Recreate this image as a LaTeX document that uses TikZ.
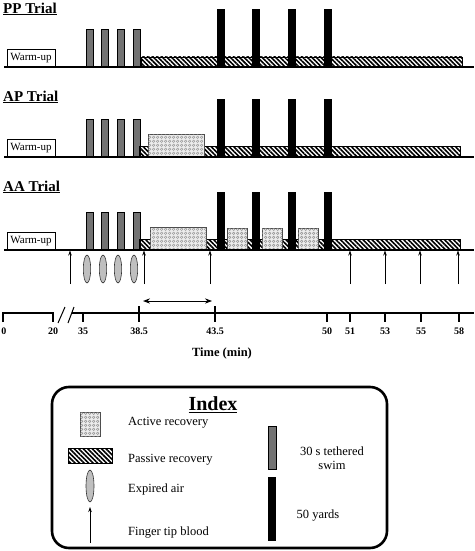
\documentclass[tikz,border=0pt]{standalone}
\usepackage{fontspec}
\setmainfont{Liberation Serif}
\usetikzlibrary{patterns.meta,arrows.meta}

\pgfdeclarepattern{
  name=bubbles, type=uncolored,
  bottom left={\pgfpoint{0pt}{0pt}}, top right={\pgfpoint{4pt}{4pt}},
  tile size={\pgfpoint{4pt}{4pt}},
  code={\pgfsetlinewidth{0.45pt}\pgfpathcircle{\pgfpoint{2pt}{2pt}}{1.5pt}\pgfusepath{stroke}}
}
\newcommand{\tsz}[1]{\fontsize{#1}{#1}\selectfont}

\tikzset{
  base/.style={line width=1.3pt},
  tether/.style={draw=black, line width=0.5pt, fill=black!55},
  yards/.style={fill=black},
  passive/.style={draw=black, line width=0.5pt, pattern={Lines[angle=-45,distance=3.2pt,line width=1.6pt]}},
  active/.style={draw=black!70, line width=0.5pt, fill=black!8, postaction={pattern=bubbles, pattern color=black!45}},
  air/.style={draw=black!80, line width=0.6pt, fill=black!25},
  blood/.style={-{Stealth[length=5pt,width=3.5pt]}, line width=0.8pt},
  warm/.style={draw, line width=0.6pt, minimum width=48pt, minimum height=18pt, inner sep=0pt, font=\tsz{11}},
  trial/.style={anchor=west, inner sep=0pt, font=\bfseries\tsz{15}},
  tick/.style={inner sep=0pt, font=\bfseries\tsz{10}},
  legend/.style={anchor=west, inner sep=0pt, font=\tsz{12.5}}
}

\begin{document}
\begin{tikzpicture}[x=1pt,y=-1pt]
\useasboundingbox (0,0) rectangle (474,551);
% the three trials
\foreach \base/\tri/\up in {67/PP/58,157/AP/60,250/AA/63}{
  \node[trial] (title\tri) at (3,\base-\up) {\underline{\tri{} Trial}};
  \node[warm] (warm\tri) at (31,\base-9) {Warm-up};
  \foreach \x in {86,101,117,133}
    \draw[tether] (\x,\base) rectangle ++(7,-38);
}
\draw[passive] (141,67) rectangle (462,57);
\draw[passive] (139,157) rectangle (460,146);
\draw[passive] (139,250) rectangle (460,239);
\draw[active] (148,157) rectangle (204,134);
\draw[active] (150,250) rectangle (206,227);
\foreach \x in {227,262,298}
  \draw[active] (\x,250) rectangle ++(20,-22);
\foreach \base in {67,157,250}{
  \foreach \x in {217,252,288,324}
    \fill[yards] (\x,\base) rectangle ++(8,-58);
  \draw[base] (4,\base) -- (474,\base);
}
% samples
\foreach \x in {70,144,210,350,385,420,458}
  \draw[blood] (\x,284) -- (\x,250.5);
\foreach \x in {87,103,118,134}
  \draw[air] (\x,269) ellipse (3.7pt and 14pt);
% time axis
\draw[base] (3,322) -- (3,313) -- (53,313) -- (53,322);
\draw[line width=1pt] (58,323) -- (65,307) (68,323) -- (74,307);
\draw[base] (72,313) -- (474,313);
\node[tick] (tick3) at (4,331) {0};
\node[tick] (tick53) at (53,331) {20};
\foreach \x/\lab in {83/35,327/50,350/51,385/53,421/55,459/58}{
  \draw[line width=1.4pt] (\x,313) -- (\x,322);
  \node[tick] (tick\x) at (\x,331) {\lab};
}
\foreach \x/\lab in {139/38.5,215/43.5}{
  \draw[line width=1.4pt] (\x,306) -- (\x,322);
  \node[tick] (tick\x) at (\x,331) {\lab};
}
\draw[{Stealth[length=7pt]}-{Stealth[length=7pt]}, line width=1pt] (143,301) -- (212,301);
\node[font=\bfseries\tsz{12.5}] (time) at (222,353) {Time (min)};
% index
\draw[line width=2.6pt, rounded corners=17pt] (52,387) rectangle (387,548);
\node[font=\bfseries\tsz{20}, inner sep=0pt] (index) at (213,405) {\underline{Index}};
\draw[active] (80,412) rectangle (100,436);
\draw[passive] (68,448) rectangle (112,463);
\draw[air] (90,486) ellipse (4pt and 16pt);
\draw[blood] (90,543) -- (90,507);
\draw[tether] (268,426) rectangle (276,469);
\fill[yards] (268,477) rectangle (276,541);
\node[legend] (lactive) at (128,423) {Active recovery};
\node[legend] (lpassive) at (128,460) {Passive recovery};
\node[legend] (lair) at (128,489) {Expired air};
\node[legend] (lblood) at (128,533) {Finger tip blood};
\node[font=\tsz{12.5}, align=center, inner sep=0pt] (lswim) at (332,458) {30 s tethered\\[2pt]swim};
\node[font=\tsz{12.5}, inner sep=0pt] (lyards) at (318,516) {50 yards};
\end{tikzpicture}
\end{document}
